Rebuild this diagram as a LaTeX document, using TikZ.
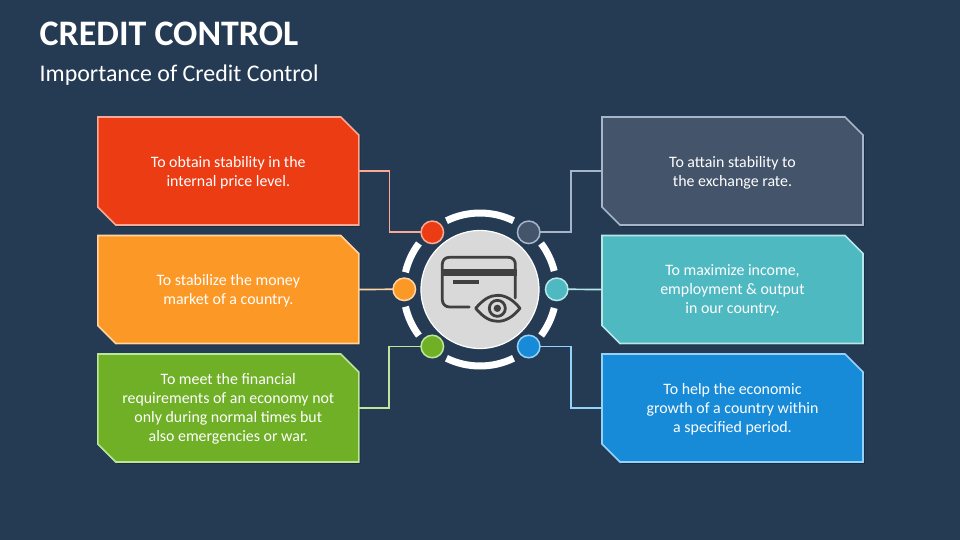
\documentclass[tikz,border=0pt]{standalone}
\usepackage{fontspec}
\setmainfont{Carlito}
\usetikzlibrary{shadows}
\definecolor{bgc}{HTML}{253B54}
\definecolor{redf}{HTML}{EB3C14}\definecolor{redl}{HTML}{F9A995}
\definecolor{oraf}{HTML}{FC9826}\definecolor{oral}{HTML}{FFD6A3}
\definecolor{gref}{HTML}{6FB026}\definecolor{grel}{HTML}{BCE69A}
\definecolor{slaf}{HTML}{44546A}\definecolor{slal}{HTML}{A6B5C8}
\definecolor{teaf}{HTML}{4FB9C2}\definecolor{teal2}{HTML}{B5E6EA}
\definecolor{bluf}{HTML}{178BD8}\definecolor{blul}{HTML}{94D2FA}
\definecolor{iconc}{HTML}{404040}
\tikzset{
  x=1pt,y=-1pt,
  cardslot/.style={rectangle,minimum width=261pt,minimum height=108pt,inner sep=0pt,outer sep=0pt},
  cardface/.style n args={2}{draw=#2,fill=#1,line width=1.6pt,
    drop shadow={shadow xshift=1.5pt,shadow yshift=-1.5pt,opacity=.35,fill=black}},
  cardtext/.style={inner sep=0pt,text=white,align=center,font=\fontsize{15.9}{19}\selectfont},
  dot/.style n args={2}{circle,minimum size=22.5pt,inner sep=0pt,outer sep=0pt,fill=#1,draw=#2,line width=1.5pt},
  link/.style={line width=1.7pt,draw=#1},
  ringarc/.style={line width=7pt,draw=white},
  iconline/.style={draw=iconc,line width=2.8pt},
  heading/.style={anchor=base west,inner sep=0pt,text=white},
}
% #1 name, #2 centre, #3 fill, #4 line, #5 text shift, #6 text
\newcommand{\cardbox}[6]{%
  \node[cardslot] (b#1) at (#2) {};
  \draw[cardface={#3}{#4}] ([xshift=-18pt]b#1.north east) -- ([yshift=-18pt]b#1.north east) -- (b#1.south east)
     -- ([xshift=18pt]b#1.south west) -- ([yshift=18pt]b#1.south west) -- (b#1.north west) -- cycle;
  \node[cardtext] (t#1) at ([yshift=#5]b#1.center) {#6};
}
\begin{document}
\begin{tikzpicture}
\fill[bgc] (0,0) rectangle (960,540);
\useasboundingbox (0,0) rectangle (960,540);
\node[heading,font=\fontsize{35.9}{40}\selectfont\bfseries] (title) at (39.5,46) {CREDIT CONTROL};
\node[heading,font=\fontsize{23.9}{28}\selectfont] (sub) at (39.5,82) {Importance of Credit Control};
% centre
\node[circle,minimum size=118pt,inner sep=0pt,fill=black!15,draw=white,line width=1.2pt] (hub) at (480,289.5) {};
\foreach \a/\b in {64/116,143/167,193/217,244/296,323/346,14/37}
  \draw[ringarc] ({480+76.5*cos(\a)},{289.5-76.5*sin(\a)}) arc[start angle=-\a,end angle=-\b,radius=76.5];
% boxes
\cardbox{1}{228.3,171}{redf}{redl}{-1.7pt}{To obtain stability in the\\internal price level.}
\cardbox{2}{228.3,289.5}{oraf}{oral}{-1.7pt}{To stabilize the money\\market of a country.}
\cardbox{3}{228.3,408}{gref}{grel}{-1.2pt}{To meet the financial\\requirements of an economy not\\only during normal times but\\also emergencies or war.}
\cardbox{4}{732.5,171}{slaf}{slal}{-1.7pt}{To attain stability to\\the exchange rate.}
\cardbox{5}{732.5,289.5}{teaf}{teal2}{-1.2pt}{To maximize income,\\employment \& output\\in our country.}
\cardbox{6}{732.5,408}{bluf}{blul}{-1.2pt}{To help the economic\\growth of a country within\\a specified period.}
% dots
\node[dot={redf}{redl}] (d1) at (432.3,232.3) {};
\node[dot={oraf}{oral}] (d2) at (404.3,289.3) {};
\node[dot={gref}{grel}] (d3) at (432.3,346.5) {};
\node[dot={slaf}{slal}] (d4) at (528.7,232.3) {};
\node[dot={teaf}{teal2}] (d5) at (556.7,289.3) {};
\node[dot={bluf}{blul}] (d6) at (528.7,346.5) {};
% connectors
\coordinate (k1) at (389.5,232.3);
\draw[link=redl] (b1.east) -- (b1.east -| k1) -- (k1) -- (d1.west);
\draw[link=oral] (b2.east) -- (d2.west);
\coordinate (k3) at (388.8,346.5);
\draw[link=grel] (b3.east) -- (b3.east -| k3) -- (k3) -- (d3.west);
\coordinate (k4) at (571,232.3);
\draw[link=slal] (b4.west) -- (b4.west -| k4) -- (k4) -- (d4.east);
\draw[link=teal2] (b5.west) -- (d5.east);
\coordinate (k6) at (571,346.5);
\draw[link=blul] (b6.west) -- (b6.west -| k6) -- (k6) -- (d6.east);
% icon
\begin{scope}[shift={(380,190)},x=0.3333pt,y=-0.3333pt]
  \draw[iconline,line cap=round,line join=round] (268,351) -- (208,351) arc[start angle=90,end angle=180,radius=21] -- (187,222)
     arc[start angle=180,end angle=270,radius=20] -- (386,202) arc[start angle=270,end angle=360,radius=20] -- (406,324);
  \fill[iconc] (186,237) rectangle (410,258);
  \fill[iconc] (218,270) rectangle (297,282);
  \draw[iconline,line join=round,fill=black!15] (287,355) .. controls (310,328) and (330,316) .. (353,316) .. controls (376,316) and (398,328) .. (420,355)
     .. controls (398,382) and (376,394) .. (353,394) .. controls (330,394) and (310,382) .. (287,355) -- cycle;
  \draw[iconline] (352,355) circle[radius=24];
  \fill[iconc] (352,355) circle[radius=11];
\end{scope}
\end{tikzpicture}
\end{document}
